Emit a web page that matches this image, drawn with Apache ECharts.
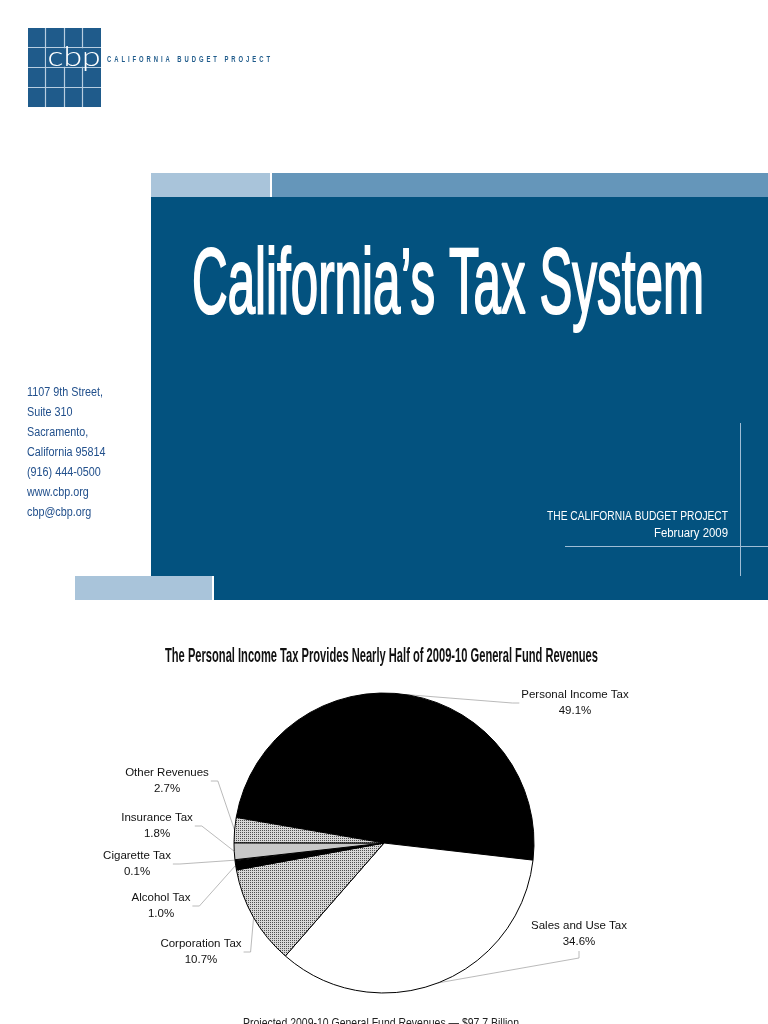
<!DOCTYPE html>
<html>
<head>
<meta charset="utf-8">
<script src="https://cdn.jsdelivr.net/npm/echarts@6/dist/echarts.min.js"></script>
<style>
  html, body { margin: 0; padding: 0; background: #fff; }
  #main { width: 768px; height: 1024px; }
</style>
</head>
<body>
<div id="main"></div>
<script>
// ---- data ----
var categories = ['Personal Income Tax', 'Sales and Use Tax', 'Corporation Tax', 'Alcohol Tax', 'Cigarette Tax', 'Insurance Tax', 'Other Revenues'];
var shares = [49.1, 34.6, 10.7, 1.0, 0.1, 1.8, 2.7];
var addressLines = ['1107 9th Street,', 'Suite 310', 'Sacramento,', 'California 95814', '(916) 444-0500', 'www.cbp.org', 'cbp@cbp.org'];
var coverTitle = 'California\u2019s Tax System';
var chartTitle = 'The Personal Income Tax Provides Nearly Half of 2009-10 General Fund Revenues';
var chartNote = 'Projected 2009-10 General Fund Revenues \u2014 $97.7 Billion';
var publisher = 'THE CALIFORNIA BUDGET PROJECT';
var pubDate = 'February 2009';
var brand = 'CALIFORNIA BUDGET PROJECT';

// pie label placement (layout only): centre of each label and the side its leader line meets
var labelPos = [[575, 703], [579, 934], [201, 952], [161, 906], [137, 864], [157, 826], [167, 781]];
var labelSide = ['left', 'bottom', 'right', 'right', 'right', 'right', 'right'];

var FONT = '"Liberation Sans", Arial, sans-serif';
var logoBlue = '#1f5b8b';
var darkBlue = '#03527f';
var midBlue = '#6596ba';
var lightBlue = '#a9c4da';

var mctx = document.createElement('canvas').getContext('2d');
function squeeze(text, weight, size, family, width) {
  mctx.font = weight + ' ' + size + 'px ' + family;
  return width / mctx.measureText(text).width;
}
// y for verticalAlign middle from a baseline
function mid(baseline, size) { return baseline - 0.3465 * size; }

function stipple() {
  var c = document.createElement('canvas');
  c.width = 2; c.height = 2;
  var g = c.getContext('2d');
  g.fillStyle = '#d8d8d8'; g.fillRect(0, 0, 2, 2);
  g.fillStyle = '#505050'; g.fillRect(0, 0, 1, 1);
  return c;
}
var dots = { image: stipple(), repeat: 'repeat' };
var sliceFill = ['#000', '#fff', dots, '#000', '#777', '#c8c8c8', dots];

var chart = echarts.init(document.getElementById('main'), null, { renderer: 'canvas' });

var graphics = [];
// logo
graphics.push({ type: 'rect', shape: { x: 28, y: 28, width: 73, height: 79 }, style: { fill: logoBlue } });
[45.5, 64.5, 82.5].forEach(function (x) {
  graphics.push({ type: 'line', shape: { x1: x, y1: 28, x2: x, y2: 107 }, style: { stroke: '#b8cee1', lineWidth: 1.2 } });
});
[47.5, 67.5, 87.5].forEach(function (y) {
  graphics.push({ type: 'line', shape: { x1: 28, y1: y, x2: 101, y2: y }, style: { stroke: '#b8cee1', lineWidth: 1.2 } });
});
graphics.push({ type: 'rect', shape: { x: 46.3, y: 48.2, width: 54.7, height: 18.6 }, style: { fill: logoBlue } });
var LOGOFONT = 'Lato, "Liberation Sans", Arial, sans-serif';
graphics.push({ type: 'text', x: 47.5, y: mid(67, 28), scaleX: squeeze('cbp', '300', 28, LOGOFONT, 53),
  style: { text: 'cbp', fill: '#fff', fontSize: 28, fontWeight: 300, fontFamily: LOGOFONT, verticalAlign: 'middle', align: 'left' } });
var brandSpaced = brand.split('').join('\u2002');
graphics.push({ type: 'text', x: 107, y: 59.5, scaleX: squeeze(brandSpaced, 'bold', 9, FONT, 163),
  style: { text: brandSpaced, fill: logoBlue, fontSize: 9, fontWeight: 'bold', fontFamily: FONT, verticalAlign: 'middle', align: 'left' } });

// cover blocks
graphics.push({ type: 'rect', shape: { x: 151, y: 173, width: 119, height: 24 }, style: { fill: lightBlue } });
graphics.push({ type: 'rect', shape: { x: 272, y: 173, width: 496, height: 24 }, style: { fill: midBlue } });
graphics.push({ type: 'rect', shape: { x: 151, y: 197, width: 617, height: 403 }, style: { fill: darkBlue } });
graphics.push({ type: 'rect', shape: { x: 75, y: 576, width: 139, height: 24 }, style: { fill: '#fff' } });
graphics.push({ type: 'rect', shape: { x: 75, y: 576, width: 137, height: 24 }, style: { fill: lightBlue } });
graphics.push({ type: 'line', shape: { x1: 565, y1: 546.5, x2: 768, y2: 546.5 }, style: { stroke: '#9fbdd5', lineWidth: 1 } });
graphics.push({ type: 'line', shape: { x1: 740.5, y1: 423, x2: 740.5, y2: 576 }, style: { stroke: '#9fbdd5', lineWidth: 1 } });

graphics.push({ type: 'text', x: 192, y: mid(320, 93), scaleX: squeeze(coverTitle, 'normal', 93, FONT, 512),
  style: { text: coverTitle, fill: '#fff', stroke: '#fff', lineWidth: 2.2, fontSize: 93, fontFamily: FONT, verticalAlign: 'middle', align: 'left' } });

graphics.push({ type: 'text', x: 728, y: 517, scaleX: squeeze(publisher, 'normal', 12.5, FONT, 181),
  style: { text: publisher, fill: '#fff', fontSize: 12.5, fontFamily: FONT, verticalAlign: 'middle', align: 'right' } });
graphics.push({ type: 'text', x: 728, y: 534, scaleX: squeeze(pubDate, 'normal', 12.5, FONT, 74),
  style: { text: pubDate, fill: '#fff', fontSize: 12.5, fontFamily: FONT, verticalAlign: 'middle', align: 'right' } });

var addrScale = squeeze(addressLines[0], 'normal', 12.5, FONT, 76);
addressLines.forEach(function (t, i) {
  graphics.push({ type: 'text', x: 27, y: 393 + i * 20, scaleX: addrScale,
    style: { text: t, fill: '#22508c', fontSize: 12.5, fontFamily: FONT, verticalAlign: 'middle', align: 'left' } });
});

// chart title and note
graphics.push({ type: 'text', x: 165, y: mid(663, 21), scaleX: squeeze(chartTitle, 'bold', 21, FONT, 433),
  style: { text: chartTitle, fill: '#111', fontSize: 21, fontWeight: 'bold', fontFamily: FONT, verticalAlign: 'middle', align: 'left' } });
graphics.push({ type: 'text', x: 243, y: mid(1028, 13), scaleX: squeeze(chartNote, 'normal', 13, FONT, 276),
  style: { text: chartNote, fill: '#222', fontSize: 13, fontFamily: FONT, verticalAlign: 'middle', align: 'left' } });

var pieData = categories.map(function (name, i) {
  return { name: name, value: shares[i], itemStyle: { color: sliceFill[i] } };
});

chart.setOption({
  animation: false,
  backgroundColor: '#fff',
  graphic: { elements: graphics },
  series: [{
    type: 'pie',
    center: [384, 843],
    radius: 150,
    startAngle: 170.2,
    clockwise: true,
    minAngle: 0,
    avoidLabelOverlap: false,
    silent: true,
    itemStyle: { borderColor: '#000', borderWidth: 1 },
    label: {
      show: true,
      position: 'outside',
      fontSize: 11.5,
      lineHeight: 16,
      color: '#111',
      fontFamily: FONT,
      align: 'center',
      formatter: function (p) { return p.name + '\n' + p.value.toFixed(1) + '%'; }
    },
    labelLine: { show: true, length: 10, length2: 10, lineStyle: { color: '#a8a8a8', width: 0.8 } },
    labelLayout: function (p) {
      var i = p.dataIndex;
      var pos = labelPos[i];
      var out = { x: pos[0], y: pos[1], align: 'center', verticalAlign: 'middle' };
      var pts = p.labelLinePoints;
      if (pts && pts.length) {
        var a = pts[0];
        var w = p.labelRect.width, h = p.labelRect.height;
        var end, knee;
        if (labelSide[i] === 'left') {
          end = [pos[0] - w / 2 - 2, pos[1]]; knee = [end[0] - 7, pos[1]];
        } else if (labelSide[i] === 'right') {
          end = [pos[0] + w / 2 + 2, pos[1]]; knee = [end[0] + 7, pos[1]];
        } else {
          end = [pos[0], pos[1] + h / 2 + 1]; knee = [pos[0], end[1] + 7];
        }
        out.labelLinePoints = [[a[0], a[1]], knee, end];
      }
      return out;
    },
    data: pieData
  }]
});
</script>
</body>
</html>
